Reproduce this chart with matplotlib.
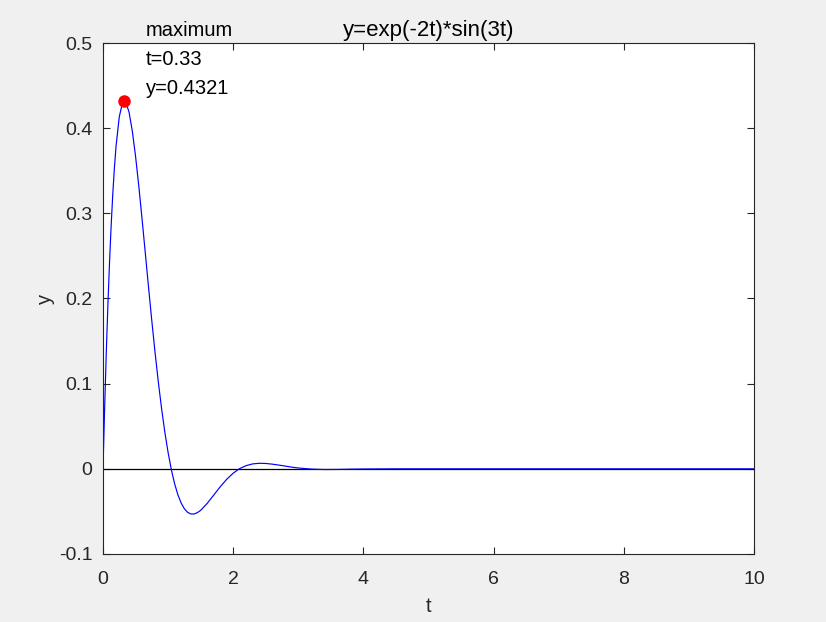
import matplotlib.pyplot as plt
from matplotlib.ticker import FuncFormatter

# 曲线上读出的点 (t, y)
t_vals = [0.0, 0.025, 0.05, 0.075, 0.1, 0.125, 0.15, 0.175, 0.2, 0.25, 0.3, 0.33, 0.35,
          0.4, 0.45, 0.5, 0.55, 0.6, 0.65, 0.7, 0.75, 0.8, 0.85, 0.9, 0.95, 1.0,
          1.05, 1.1, 1.15, 1.2, 1.25, 1.3, 1.35, 1.4, 1.45, 1.5, 1.6, 1.7, 1.8,
          1.9, 2.0, 2.1, 2.2, 2.3, 2.4, 2.5, 2.6, 2.7, 2.8, 2.9, 3.0, 3.2, 3.4,
          3.6, 3.8, 4.0, 4.5, 5.0, 6.0, 7.0, 8.0, 9.0, 10.0]
y_vals = [0.0, 0.0713, 0.1352, 0.1920, 0.2419, 0.2853, 0.3223, 0.3532, 0.3785, 0.4134,
          0.4299, 0.4321, 0.4307, 0.4188, 0.3967, 0.3670, 0.3319, 0.2933, 0.2532,
          0.2129, 0.1736, 0.1364, 0.1019, 0.0707, 0.0430, 0.0191, -0.0010, -0.0175,
          -0.0304, -0.0401, -0.0469, -0.0511, -0.0530, -0.0530, -0.0514, -0.0487,
          -0.0406, -0.0309, -0.0211, -0.0123, -0.0051, 0.0003, 0.0038, 0.0058,
          0.0065, 0.0063, 0.0055, 0.0044, 0.0032, 0.0020, 0.0010, -0.0003, -0.0008,
          -0.0007, -0.0004, -0.0002, 0.0, 0.0, 0.0, 0.0, 0.0, 0.0, 0.0]

# 最大值点
t_max = 0.33
y_max = 0.4321

x_ticks = [0, 2, 4, 6, 8, 10]
y_ticks = [-0.1, 0, 0.1, 0.2, 0.3, 0.4, 0.5]

plt.rcParams['font.family'] = ['Liberation Sans', 'DejaVu Sans']
plt.rcParams['axes.unicode_minus'] = False

fig = plt.figure(figsize=(8.26, 6.22), dpi=100, facecolor='#f0f0f0')
ax = fig.add_axes([103 / 826, 68 / 622, 651 / 826, 511 / 622])

ax.plot([0, 10], [0, 0], color='black', linewidth=0.9)  # 零线
ax.plot(t_vals, y_vals, color='#0000ff', linewidth=0.85)
ax.plot(t_max, y_max, 'o', color='red', markersize=8)

ax.text(0.66, 0.4805, 'maximum\nt=%.2f\ny=%.4f' % (t_max, y_max), fontsize=14.5,
        va='center', ha='left', linespacing=1.66, color='black')

ax.set_xlim(0, 10)
ax.set_ylim(-0.1, 0.5)
ax.set_xticks(x_ticks)
ax.set_yticks(y_ticks)
ax.yaxis.set_major_formatter(FuncFormatter(lambda v, p: '%g' % round(v, 2)))

ax.tick_params(direction='in', length=5, width=0.8, top=True, right=True,
               labelsize=14, colors='#262626')
ax.tick_params(axis='x', pad=12)
ax.tick_params(axis='y', pad=7.5)
for s in ax.spines.values():
    s.set_color('#262626')
    s.set_linewidth(0.8)

ax.set_title('y=exp(-2t)*sin(3t)', fontsize=16, color='black', pad=5)
ax.set_xlabel('t', fontsize=14.5, color='#262626', va='center')
ax.set_ylabel('y', fontsize=14.5, color='#262626', va='center', ha='center')
ax.xaxis.set_label_coords(0.5, (16 - 68) / 511)
ax.yaxis.set_label_coords((45 - 103) / 651, 0.5)

fig.savefig('out.png', dpi=100, facecolor=fig.get_facecolor())
